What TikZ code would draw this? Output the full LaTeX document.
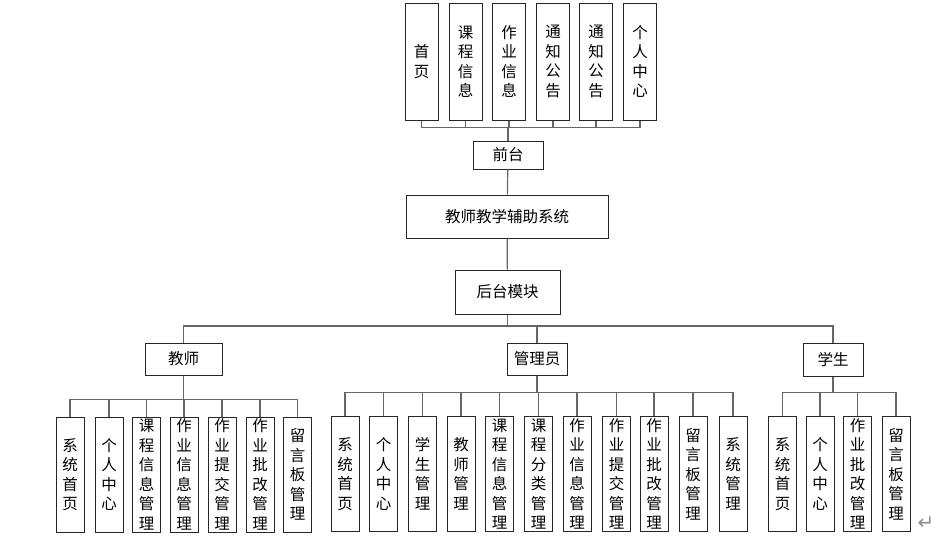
\documentclass[tikz,border=0pt]{standalone}
\usepackage{fontspec}
\setmainfont{Noto Sans CJK SC}
\newfontfamily\symfont{DejaVu Sans}
\usetikzlibrary{positioning}

\begin{document}
\begin{tikzpicture}[
    x=1pt, y=-1pt,
    every node/.style={font=\fontsize{15.5}{19.5}\selectfont},
    box/.style={draw=black!85, line width=1pt, inner sep=0pt, align=center},
    topbox/.style={box, minimum width=33, minimum height=117},
    leaf/.style={box, minimum width=28, minimum height=115},
    link/.style={draw=black!60, line width=1.2pt}
]
\useasboundingbox (0,0) rectangle (942,542);

% front end
\node[topbox] (shouye) at (421.5,61.5) {首\\页};
\node[topbox] (kcxx) at (465.5,61.5) {课\\程\\信\\息};
\node[topbox] (zyxx) at (509,61.5) {作\\业\\信\\息};
\node[topbox] (tzgg1) at (553,61.5) {通\\知\\公\\告};
\node[topbox] (tzgg2) at (596,61.5) {通\\知\\公\\告};
\node[topbox] (grzx) at (640,61.5) {个\\人\\中\\心};
\node[box, minimum width=70, minimum height=28] (qiantai) at (508,155) {前台};

% system and back end
\node[box, minimum width=202, minimum height=43] (xitong) at (507,216.5) {教师教学辅助系统};
\node[box, minimum width=105, minimum height=44] (houtai) at (507.5,292) {后台模块};
\node[box, minimum width=77, minimum height=32] (jiaoshi) at (183.5,359) {教师};
\node[box, minimum width=60, minimum height=32] (guanli) at (537,359) {管理员};
\node[box, minimum width=60, minimum height=33] (xuesheng) at (833,359.5) {学生};

% teacher modules
\node[leaf] (js1) at (70,474.5) {系\\统\\首\\页};
\node[leaf] (js2) at (109,474.5) {个\\人\\中\\心};
\node[leaf] (js3) at (146.5,474.5) {课\\程\\信\\息\\管\\理};
\node[leaf] (js4) at (184,474.5) {作\\业\\信\\息\\管\\理};
\node[leaf] (js5) at (222,474.5) {作\\业\\提\\交\\管\\理};
\node[leaf] (js6) at (260,474.5) {作\\业\\批\\改\\管\\理};
\node[leaf] (js7) at (297.5,474.5) {留\\言\\板\\管\\理};

% admin modules
\node[leaf] (gly1) at (345,474) {系\\统\\首\\页};
\node[leaf] (gly2) at (383.5,474) {个\\人\\中\\心};
\node[leaf] (gly3) at (422.5,474) {学\\生\\管\\理};
\node[leaf] (gly4) at (461,474) {教\\师\\管\\理};
\node[leaf] (gly5) at (499.5,474) {课\\程\\信\\息\\管\\理};
\node[leaf] (gly6) at (538.5,474) {课\\程\\分\\类\\管\\理};
\node[leaf] (gly7) at (577,474) {作\\业\\信\\息\\管\\理};
\node[leaf] (gly8) at (616.5,474) {作\\业\\提\\交\\管\\理};
\node[leaf] (gly9) at (654,474) {作\\业\\批\\改\\管\\理};
\node[leaf] (gly10) at (693,474) {留\\言\\板\\管\\理};
\node[leaf] (gly11) at (733,474) {系\\统\\管\\理};

% student modules
\node[leaf] (xs1) at (782.5,474) {系\\统\\首\\页};
\node[leaf] (xs2) at (820,474) {个\\人\\中\\心};
\node[leaf] (xs3) at (857.5,474) {作\\业\\批\\改\\管\\理};
\node[leaf] (xs4) at (896,474) {留\\言\\板\\管\\理};

\node[text=black!45, font=\symfont\fontsize{20}{20}\selectfont] (ret) at (926,523) {↵};

% connectors
\foreach \n in {shouye,kcxx,zyxx,tzgg1,tzgg2,grzx}
    \draw[link] (qiantai.north) -- ++(0,-13) -| (\n.south);
\draw[link] (qiantai) -- (xitong);
\draw[link] (xitong) -- (houtai);
\coordinate (hbus) at (507.5,326);
\draw[link] (houtai.south) -- (hbus);
\draw[link] (jiaoshi.north) |- (hbus) -| (xuesheng.north);
\draw[link] (guanli.north) -- (guanli.north |- hbus);
\foreach \n in {js1,js2,js3,js4,js5,js6,js7}
    \draw[link] (jiaoshi.south) -- ++(0,24) -| (\n.north);
\foreach \n in {gly1,gly2,gly3,gly4,gly5,gly6,gly7,gly8,gly9,gly10,gly11}
    \draw[link] (guanli.south) -- ++(0,17) -| (\n.north);
\foreach \n in {xs1,xs2,xs3,xs4}
    \draw[link] (xuesheng.south) -- ++(0,16) -| (\n.north);
\end{tikzpicture}
\end{document}
